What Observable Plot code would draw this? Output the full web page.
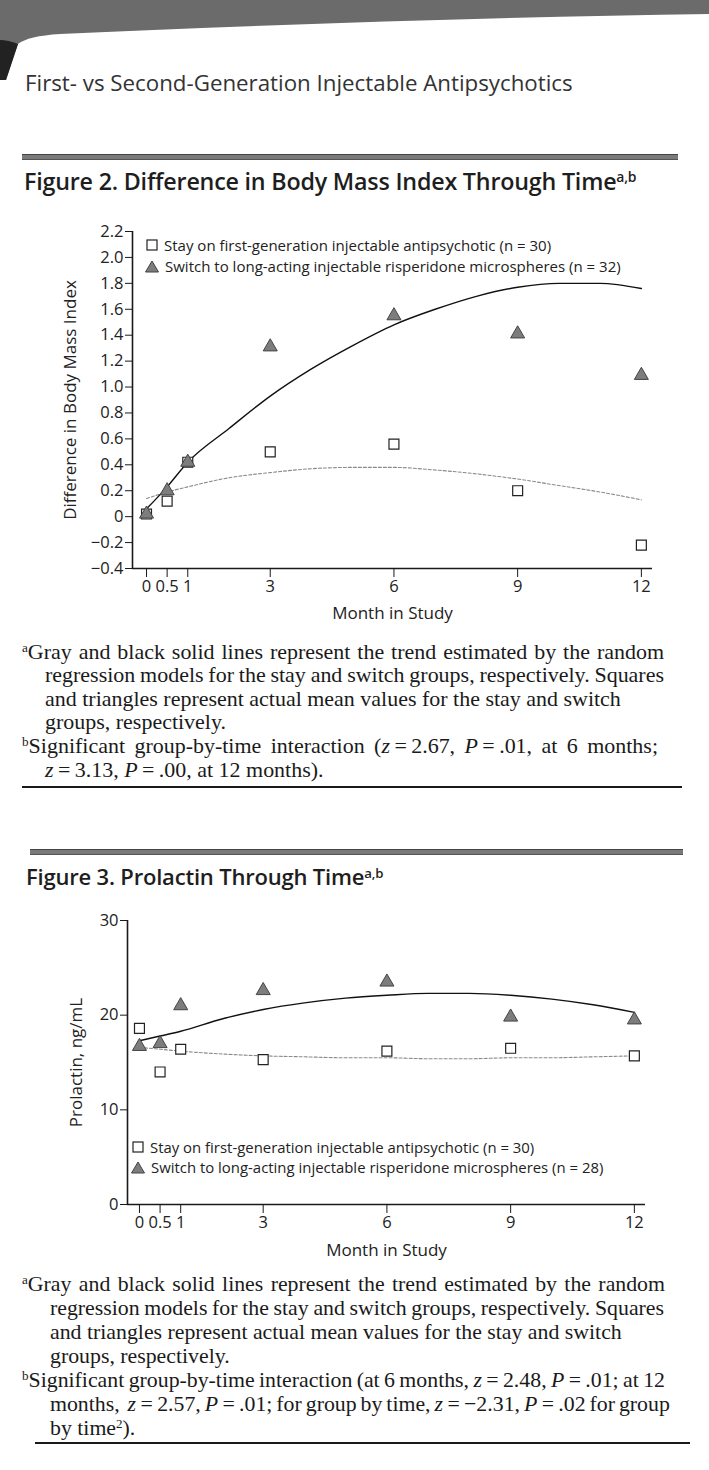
<!DOCTYPE html>
<html>
<head>
<meta charset="utf-8">
<script src="https://cdn.jsdelivr.net/npm/d3@7"></script>
<script src="https://cdn.jsdelivr.net/npm/@observablehq/plot@0.6"></script>
<style>
  html, body { margin: 0; padding: 0; background: #fff; }
  #page { position: relative; width: 709px; height: 1470px; overflow: hidden; background: #fff; font-family: "Open Sans", sans-serif; color: #222; }
  .abs { position: absolute; white-space: nowrap; }
  .hdr { font-size: 20px; color: #333; line-height: 30px; }
  .ftitle { font-size: 20.5px; font-weight: 600; color: #1e1e1e; line-height: 30px; letter-spacing: -0.2px; }
  .ftitle sup { font-size: 0.6em; font-weight: 600; vertical-align: 0.55em; line-height: 0; }
  .bar { position: absolute; height: 4px; background: #7a7a7a; border-top: 1px solid #444; border-bottom: 1px solid #555; }
  .rule { position: absolute; height: 2px; background: #1a1a1a; }
  .fn { font-family: "Liberation Serif", "Times New Roman", serif; font-size: 20px; color: #1a1a1a; line-height: 24px; }
  .fn sup { font-size: 0.6em; vertical-align: 0.55em; line-height: 0; }
  .fn i { font-style: italic; }
  .leg { color: #222; display: flex; align-items: center; line-height: 20px; }
  .leg svg { margin-right: 6px; flex: none; }
  .leg span { font-size: 14px; }
  .chart { position: absolute; left: 0; }
</style>
</head>
<body>
<div id="page">
  <svg class="abs" style="left:0;top:0" width="709" height="80">
    <path d="M0,0 H709 V14 Q420,18 60,34 Q28,36 18,44 L6,80 H0 Z" fill="#6b6b6b"/>
    <path d="M0,40 Q8,40 18,44 L6,80 H0 Z" fill="#222"/>
  </svg>
  <div class="abs hdr" data-w="548" style="left:25px;top:68px">First- vs Second-Generation Injectable Antipsychotics</div>

  <div class="bar" style="left:22px;top:154px;width:656px"></div>
  <div class="abs ftitle" data-w="611" style="left:24px;top:166px">Figure 2. Difference in Body Mass Index Through Time<sup>a,b</sup></div>

  <div id="fig2" class="chart" style="top:220px"></div>
  <div class="abs leg" style="left:146px;top:235px"><svg width="12" height="12"><rect x="1" y="1" width="10" height="10" fill="#fff" stroke="#222" stroke-width="1.2"/></svg><span data-g="l2">Stay on first-generation injectable antipsychotic (n = 30)</span></div>
  <div class="abs leg" style="left:145px;top:256px"><svg width="14" height="13"><path d="M7,1 L13.5,12 L0.5,12 Z" fill="#7d7d7d" stroke="#444" stroke-width="1"/></svg><span data-g="l2" data-w="456">Switch to long-acting injectable risperidone microspheres (n = 32)</span></div>

  <div class="abs fn" data-g="f2" data-j="642" style="left:22px;top:640px"><sup>a</sup>Gray and black solid lines represent the trend estimated by the random</div>
  <div class="abs fn" data-g="f2" data-j="619" style="left:45px;top:663px">regression models for the stay and switch groups, respectively. Squares</div>
  <div class="abs fn" data-g="f2" data-w="576" style="left:45px;top:687px">and triangles represent actual mean values for the stay and switch</div>
  <div class="abs fn" data-g="f2" style="left:45px;top:710px">groups, respectively.</div>
  <div class="abs fn" data-g="f2" data-j="636" style="left:22px;top:734px"><sup>b</sup>Significant group-by-time interaction (<i>z</i>&thinsp;=&thinsp;2.67, <i>P</i>&thinsp;=&thinsp;.01, at 6 months;</div>
  <div class="abs fn" data-g="f2" style="left:45px;top:758px"><i>z</i>&thinsp;=&thinsp;3.13, <i>P</i>&thinsp;=&thinsp;.00, at 12 months).</div>
  <div class="rule" style="left:22px;top:786px;width:660px"></div>

  <div class="bar" style="left:30px;top:849px;width:653px"></div>
  <div class="abs ftitle" data-w="357" style="left:26px;top:861px">Figure 3. Prolactin Through Time<sup>a,b</sup></div>

  <div id="fig3" class="chart" style="top:905px"></div>
  <div class="abs leg" style="left:132px;top:1137px"><svg width="12" height="12"><rect x="1" y="1" width="10" height="10" fill="#fff" stroke="#222" stroke-width="1.2"/></svg><span data-g="l3">Stay on first-generation injectable antipsychotic (n = 30)</span></div>
  <div class="abs leg" style="left:131px;top:1157px"><svg width="14" height="13"><path d="M7,1 L13.5,12 L0.5,12 Z" fill="#7d7d7d" stroke="#444" stroke-width="1"/></svg><span data-g="l3" data-w="453">Switch to long-acting injectable risperidone microspheres (n = 28)</span></div>

  <div class="abs fn" data-g="f3" data-j="643" style="left:22px;top:1272px"><sup>a</sup>Gray and black solid lines represent the trend estimated by the random</div>
  <div class="abs fn" data-g="f3" data-j="614" style="left:50px;top:1296px">regression models for the stay and switch groups, respectively. Squares</div>
  <div class="abs fn" data-g="f3" data-w="572" style="left:50px;top:1320px">and triangles represent actual mean values for the stay and switch</div>
  <div class="abs fn" data-g="f3" style="left:50px;top:1344px">groups, respectively.</div>
  <div class="abs fn" data-g="f3" data-j="643" style="left:22px;top:1368px"><sup>b</sup>Significant group-by-time interaction (at 6 months, <i>z</i>&thinsp;=&thinsp;2.48, <i>P</i>&thinsp;=&thinsp;.01; at 12</div>
  <div class="abs fn" data-g="f3" data-j="612" style="left:50px;top:1392px">months,&nbsp; <i>z</i>&thinsp;=&thinsp;2.57, <i>P</i>&thinsp;=&thinsp;.01; for group by time, <i>z</i>&thinsp;=&thinsp;−2.31, <i>P</i>&thinsp;=&thinsp;.02 for group</div>
  <div class="abs fn" data-g="f3" style="left:50px;top:1416px">by time<sup>2</sup>).</div>
  <div class="rule" style="left:35px;top:1442px;width:655px"></div>
</div>
<script>
// ---- data ----
const months = [0, 0.5, 1, 3, 6, 9, 12];
const monthTickLabels = ["0", "0.5", "1", "3", "6", "9", "12"];
const trendMonths = [0, 0.5, 1, 2, 3, 4, 5, 6, 7, 8, 9, 10, 11, 12];

const bmiStay = [0.02, 0.12, 0.42, 0.50, 0.56, 0.20, -0.22];
const bmiSwitch = [0.02, 0.20, 0.42, 1.31, 1.55, 1.41, 1.09];
const bmiStayTrend = [0.14, 0.19, 0.23, 0.30, 0.34, 0.37, 0.38, 0.38, 0.36, 0.33, 0.29, 0.24, 0.19, 0.13];
const bmiSwitchTrend = [0.06, 0.23, 0.42, 0.68, 0.93, 1.14, 1.32, 1.48, 1.60, 1.70, 1.77, 1.80, 1.80, 1.76];
const bmiTicks = [-0.4, -0.2, 0, 0.2, 0.4, 0.6, 0.8, 1.0, 1.2, 1.4, 1.6, 1.8, 2.0, 2.2];

const prlStay = [18.6, 14.0, 16.4, 15.3, 16.2, 16.5, 15.7];
const prlSwitch = [16.7, 17.0, 21.0, 22.6, 23.5, 19.8, 19.5];
const prlStayTrend = [16.6, 16.4, 16.2, 15.9, 15.7, 15.6, 15.5, 15.5, 15.4, 15.4, 15.5, 15.5, 15.6, 15.7];
const prlSwitchTrend = [17.3, 17.8, 18.3, 19.6, 20.6, 21.3, 21.8, 22.1, 22.3, 22.3, 22.1, 21.7, 21.1, 20.3];
const prlTicks = [0, 10, 20, 30];

// ---- text fitting (style only) ----
function width(el) { return el.getBoundingClientRect().width; }
function fs(el) { return parseFloat(getComputedStyle(el).fontSize); }
document.querySelectorAll("[data-w]").forEach(el => {
  const size = fs(el) * (+el.dataset.w) / width(el);
  const g = el.dataset.g;
  const group = g ? document.querySelectorAll(`[data-g="${g}"]`) : [el];
  group.forEach(e => e.style.fontSize = size + "px");
});
document.querySelectorAll("[data-j]").forEach(el => {
  const spaces = (el.textContent.match(/[ \u00a0]/g) || []).length;
  const extra = (+el.dataset.j - width(el)) / spaces;
  el.style.wordSpacing = Math.max(-1.5, extra) + "px";
});

// ---- chart builder ----
const mk = (xs, ys) => xs.map((x, i) => ({x, y: ys[i]}));
const monthLabel = new Map(months.map((m, i) => [m, monthTickLabels[i]]));

function chart({xDomain, yDomain, yTicks, yFmt, yLabel, yLabelOffset, xLabelOffset, stay, sw, stayTrend, swTrend, size, margins}) {
  const [mt, mr, mb, ml] = margins;
  return Plot.plot({
    width: 709, height: size,
    marginTop: mt, marginRight: mr, marginBottom: mb, marginLeft: ml,
    x: {domain: xDomain},
    y: {domain: yDomain},
    style: {fontFamily: "'Open Sans', sans-serif", fontSize: "16.5px", color: "#222", background: "transparent", overflow: "visible"},
    marks: [
      Plot.ruleY([yDomain[0]], {stroke: "#1a1a1a", strokeWidth: 1.6}),
      Plot.ruleX([xDomain[0]], {stroke: "#1a1a1a", strokeWidth: 1.6}),
      Plot.axisY({ticks: yTicks, tickSize: 7, tickPadding: 2, tickFormat: yFmt, stroke: "#1a1a1a", fontSize: 16.5,
        label: null}),
      Plot.axisY({ticks: [], tickSize: 0, label: yLabel, labelAnchor: "center", labelArrow: "none", labelOffset: yLabelOffset, fontSize: 17}),
      Plot.axisX({ticks: months, tickSize: 9, tickPadding: 3, tickFormat: d => monthLabel.get(d), stroke: "#1a1a1a", fontSize: 16.5,
        label: null}),
      Plot.axisX({ticks: [], tickSize: 0, label: "Month in Study", labelAnchor: "center", labelArrow: "none", labelOffset: xLabelOffset, fontSize: 17}),
      Plot.line(mk(trendMonths, stayTrend), {x: "x", y: "y", stroke: "#8a8a8a", strokeWidth: 1.1, strokeDasharray: "3,2", curve: "monotone-x"}),
      Plot.line(mk(trendMonths, swTrend), {x: "x", y: "y", stroke: "#111", strokeWidth: 1.4, curve: "monotone-x"}),
      Plot.dot(mk(months, stay), {x: "x", y: "y", symbol: "square", r: 5.6, fill: "#fff", stroke: "#222", strokeWidth: 1.2}),
      Plot.dot(mk(months, sw), {x: "x", y: "y", symbol: "triangle", r: 5.2, fill: "#7d7d7d", stroke: "#444", strokeWidth: 1})
    ]
  });
}

const fmtBmi = d => d === 0 ? "0" : d3.format(".1f")(d);

document.getElementById("fig2").append(chart({
  xDomain: [-0.34, 12.27], yDomain: [-0.4, 2.2], yTicks: bmiTicks, yFmt: fmtBmi,
  yLabel: "Difference in Body Mass Index", yLabelOffset: 69, xLabelOffset: 50,
  stay: bmiStay, sw: bmiSwitch, stayTrend: bmiStayTrend, swTrend: bmiSwitchTrend,
  size: 400, margins: [11, 57, 52, 132]
}));

document.getElementById("fig3").append(chart({
  xDomain: [-0.29, 12.27], yDomain: [0, 30], yTicks: prlTicks, yFmt: d => String(d),
  yLabel: "Prolactin, ng/mL", yLabelOffset: 58, xLabelOffset: 51,
  stay: prlStay, sw: prlSwitch, stayTrend: prlStayTrend, swTrend: prlSwitchTrend,
  size: 360, margins: [15, 64, 61, 127]
}));
</script>
</body>
</html>
